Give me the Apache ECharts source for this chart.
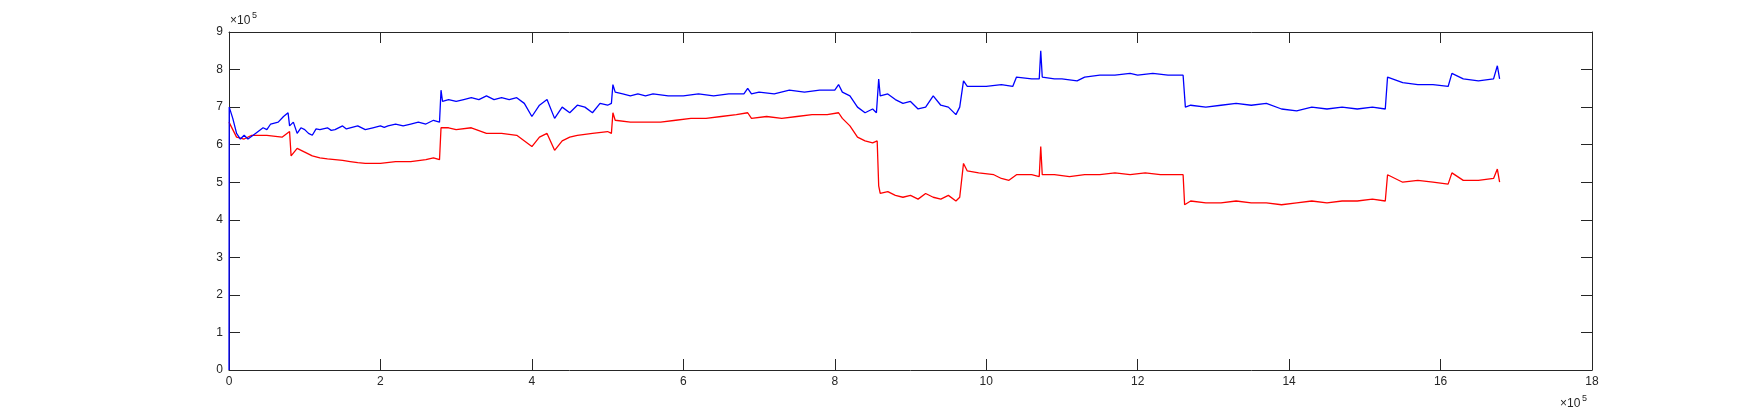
<!DOCTYPE html>
<html><head><meta charset="utf-8">
<script src="https://cdn.jsdelivr.net/npm/echarts@6/dist/echarts.min.js"></script>
<style>html,body{margin:0;padding:0;background:#fff}#c{width:1759px;height:417px}</style>
</head><body><div id="c"></div>
<script>
// x and y in units of 1e5
const xTicks = [0,2,4,6,8,10,12,14,16,18];
const yTicks = [0,1,2,3,4,5,6,7,8,9];
const blue = [[0,0],[0.003,7.0],[0.05,6.7],[0.1,6.3],[0.15,6.15],[0.2,6.25],[0.25,6.15],[0.35,6.3],[0.45,6.45],[0.5,6.4],[0.55,6.55],[0.65,6.6],[0.72,6.75],[0.78,6.85],[0.8,6.5],[0.85,6.6],[0.9,6.3],[0.95,6.45],[1.0,6.4],[1.05,6.3],[1.1,6.25],[1.15,6.42],[1.2,6.4],[1.3,6.45],[1.35,6.38],[1.4,6.4],[1.5,6.5],[1.55,6.42],[1.6,6.45],[1.7,6.5],[1.8,6.4],[1.9,6.45],[2.0,6.5],[2.05,6.46],[2.1,6.5],[2.2,6.55],[2.3,6.5],[2.4,6.55],[2.5,6.6],[2.6,6.55],[2.7,6.65],[2.78,6.6],[2.8,7.45],[2.82,7.15],[2.9,7.2],[3.0,7.15],[3.1,7.2],[3.2,7.25],[3.3,7.2],[3.4,7.3],[3.5,7.2],[3.6,7.25],[3.7,7.2],[3.8,7.25],[3.9,7.1],[4.0,6.75],[4.1,7.05],[4.2,7.2],[4.3,6.7],[4.4,7.0],[4.5,6.85],[4.6,7.05],[4.7,7.0],[4.8,6.85],[4.9,7.1],[5.0,7.05],[5.05,7.1],[5.07,7.6],[5.1,7.4],[5.2,7.35],[5.3,7.3],[5.4,7.35],[5.5,7.3],[5.6,7.35],[5.8,7.3],[6.0,7.3],[6.2,7.35],[6.4,7.3],[6.6,7.35],[6.8,7.35],[6.85,7.5],[6.9,7.35],[7.0,7.4],[7.2,7.35],[7.4,7.45],[7.6,7.4],[7.8,7.45],[8.0,7.45],[8.05,7.6],[8.1,7.4],[8.2,7.3],[8.3,7.0],[8.4,6.85],[8.5,6.95],[8.55,6.85],[8.58,7.75],[8.6,7.3],[8.7,7.35],[8.8,7.2],[8.9,7.1],[9.0,7.15],[9.1,6.95],[9.2,7.0],[9.3,7.3],[9.4,7.05],[9.5,7.0],[9.6,6.8],[9.65,7.0],[9.7,7.7],[9.75,7.55],[9.9,7.55],[10.0,7.55],[10.2,7.6],[10.35,7.55],[10.4,7.8],[10.6,7.75],[10.7,7.75],[10.72,8.5],[10.74,7.8],[10.9,7.75],[11.0,7.75],[11.2,7.7],[11.3,7.8],[11.5,7.85],[11.7,7.85],[11.9,7.9],[12.0,7.85],[12.2,7.9],[12.4,7.85],[12.6,7.85],[12.63,7.0],[12.7,7.05],[12.9,7.0],[13.1,7.05],[13.3,7.1],[13.5,7.05],[13.7,7.1],[13.9,6.95],[14.1,6.9],[14.3,7.0],[14.5,6.95],[14.7,7.0],[14.9,6.95],[15.1,7.0],[15.27,6.95],[15.3,7.8],[15.5,7.65],[15.7,7.6],[15.9,7.6],[16.1,7.55],[16.15,7.9],[16.3,7.75],[16.5,7.7],[16.7,7.75],[16.75,8.1],[16.78,7.75]];
const red = [[0,6.6],[0.1,6.2],[0.2,6.15],[0.3,6.25],[0.5,6.25],[0.7,6.2],[0.8,6.35],[0.82,5.7],[0.9,5.9],[1.0,5.8],[1.1,5.7],[1.2,5.65],[1.3,5.62],[1.4,5.6],[1.5,5.58],[1.6,5.55],[1.7,5.52],[1.8,5.5],[2.0,5.5],[2.2,5.55],[2.4,5.55],[2.6,5.6],[2.7,5.65],[2.78,5.6],[2.8,6.45],[2.9,6.45],[3.0,6.4],[3.2,6.45],[3.4,6.3],[3.6,6.3],[3.8,6.25],[4.0,5.95],[4.1,6.2],[4.2,6.3],[4.3,5.85],[4.4,6.1],[4.5,6.2],[4.6,6.25],[4.8,6.3],[5.0,6.35],[5.05,6.3],[5.07,6.85],[5.1,6.65],[5.3,6.6],[5.5,6.6],[5.7,6.6],[5.9,6.65],[6.1,6.7],[6.3,6.7],[6.5,6.75],[6.7,6.8],[6.85,6.85],[6.9,6.7],[7.1,6.75],[7.3,6.7],[7.5,6.75],[7.7,6.8],[7.9,6.8],[8.05,6.85],[8.1,6.7],[8.2,6.5],[8.3,6.2],[8.4,6.1],[8.5,6.05],[8.56,6.1],[8.58,4.9],[8.6,4.7],[8.7,4.75],[8.8,4.65],[8.9,4.6],[9.0,4.65],[9.1,4.55],[9.2,4.7],[9.3,4.6],[9.4,4.55],[9.5,4.65],[9.6,4.5],[9.65,4.6],[9.7,5.5],[9.75,5.3],[9.9,5.25],[10.1,5.2],[10.2,5.1],[10.3,5.05],[10.4,5.2],[10.6,5.2],[10.7,5.15],[10.72,5.95],[10.74,5.2],[10.9,5.2],[11.1,5.15],[11.3,5.2],[11.5,5.2],[11.7,5.25],[11.9,5.2],[12.1,5.25],[12.3,5.2],[12.6,5.2],[12.62,4.4],[12.7,4.5],[12.9,4.45],[13.1,4.45],[13.3,4.5],[13.5,4.45],[13.7,4.45],[13.9,4.4],[14.1,4.45],[14.3,4.5],[14.5,4.45],[14.7,4.5],[14.9,4.5],[15.1,4.55],[15.27,4.5],[15.3,5.2],[15.5,5.0],[15.7,5.05],[15.9,5.0],[16.1,4.95],[16.15,5.25],[16.3,5.05],[16.5,5.05],[16.7,5.1],[16.75,5.35],[16.78,5.0]];

const ax = '#262626';
const font = 'Liberation Sans, Arial';
const chart = echarts.init(document.getElementById('c'), null, {renderer:'canvas'});
const base = (pos, show) => ({
  type: 'value', position: pos, min: 0,
  axisLine: {show: true, onZero: false, lineStyle: {color: ax, width: 1}},
  axisTick: {show: true, inside: true, length: 11, lineStyle: {color: ax}},
  axisLabel: {show: show, color: ax, fontFamily: font, fontSize: 12, margin: 6},
  splitLine: {show: false}
});
chart.setOption({
  animation: false,
  grid: {left: 229, right: 167, top: 32, bottom: 47},
  xAxis: [
    Object.assign(base('bottom', true), {max: 18, interval: 2}),
    Object.assign(base('top', false), {max: 18, interval: 2})
  ],
  yAxis: [
    Object.assign(base('left', true), {max: 9, interval: 1}),
    Object.assign(base('right', false), {max: 9, interval: 1})
  ],
  graphic: [
    {type: 'text', left: 230, top: 15, style: {text: '×10', fill: ax, font: '12px ' + font}},
    {type: 'text', left: 252, top: 11, style: {text: '5', fill: ax, font: '9px ' + font}},
    {type: 'text', left: 1560, top: 398, style: {text: '×10', fill: ax, font: '12px ' + font}},
    {type: 'text', left: 1582, top: 394, style: {text: '5', fill: ax, font: '9px ' + font}}
  ],
  series: [
    {type: 'line', data: red, showSymbol: false, lineStyle: {color: '#ff0000', width: 1.3}, z: 2},
    {type: 'line', data: blue, showSymbol: false, lineStyle: {color: '#0000ff', width: 1.3}, z: 3}
  ]
});
</script></body></html>
